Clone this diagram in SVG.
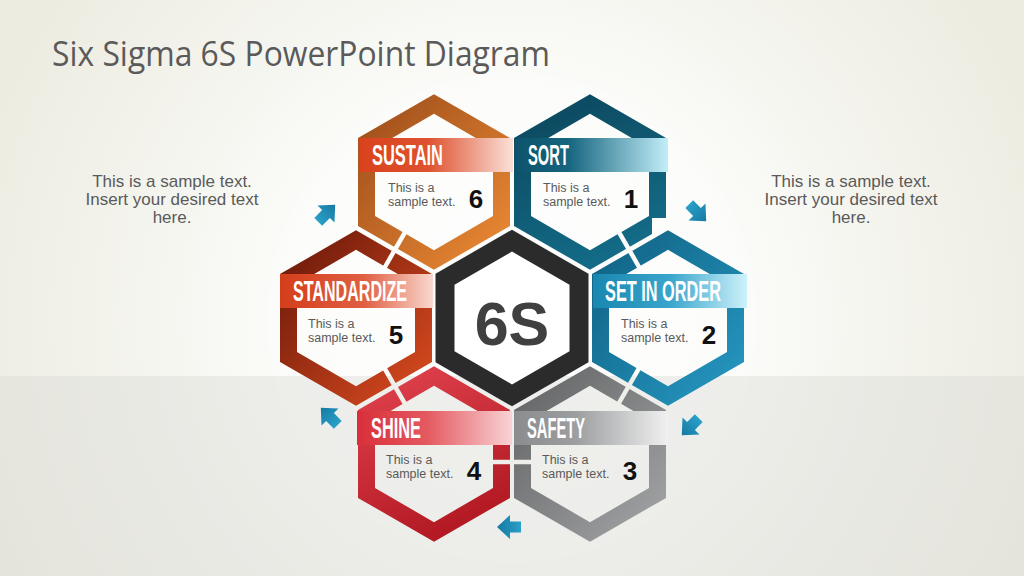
<svg xmlns="http://www.w3.org/2000/svg" width="1024" height="576" viewBox="0 0 1024 576">
<defs>
<style>
.ttl{font-family:"Open Sans","Liberation Sans",sans-serif;font-size:35px;fill:#5a5a5a}
.side{font-family:"Liberation Sans",Arial,sans-serif;font-size:17px;fill:#5a5a5a;text-anchor:middle}
.lbl{font-family:"Liberation Sans",Arial,sans-serif;font-size:29px;font-weight:bold;fill:#ffffff}
.body{font-family:"Liberation Sans",Arial,sans-serif;font-size:12.5px;fill:#5a5a5a}
.num{font-family:"Liberation Sans",Arial,sans-serif;font-size:26px;font-weight:bold;fill:#111111;text-anchor:middle}
.ring{fill-rule:evenodd}
.arrow{fill:url(#gArrow)}
</style>
<radialGradient id="glow" gradientUnits="userSpaceOnUse" cx="512" cy="318" r="560">
<stop offset="0" stop-color="#fff" stop-opacity="1"/>
<stop offset="0.45" stop-color="#fff" stop-opacity="0.75"/>
<stop offset="1" stop-color="#fff" stop-opacity="0"/>
</radialGradient>
<linearGradient id="gArrow" x1="0" y1="0" x2="1" y2="0"><stop offset="0" stop-color="#2aa0c8"/><stop offset="1" stop-color="#1579a3"/></linearGradient>
<linearGradient id="rSustain" x1="0" y1="0" x2="1" y2="1"><stop offset="0" stop-color="#994a1a"/><stop offset="1" stop-color="#ef8d35"/></linearGradient>
<linearGradient id="rSort" x1="0" y1="0" x2="0.4" y2="1"><stop offset="0" stop-color="#0b4459"/><stop offset="1" stop-color="#136b87"/></linearGradient>
<linearGradient id="rSet" x1="0" y1="0" x2="1" y2="1"><stop offset="0" stop-color="#0f5f80"/><stop offset="1" stop-color="#279ac5"/></linearGradient>
<linearGradient id="rSafety" x1="0" y1="0" x2="1" y2="1"><stop offset="0" stop-color="#5e6061"/><stop offset="1" stop-color="#a5a7a8"/></linearGradient>
<linearGradient id="rShine" x1="0" y1="0" x2="0.4" y2="1"><stop offset="0" stop-color="#e34550"/><stop offset="1" stop-color="#b31a23"/></linearGradient>
<linearGradient id="rStand" x1="0" y1="0" x2="1" y2="1"><stop offset="0" stop-color="#651609"/><stop offset="1" stop-color="#de4d20"/></linearGradient>
<linearGradient id="bSustain" x1="0" y1="0" x2="1" y2="0"><stop offset="0" stop-color="#d9421c"/><stop offset="0.45" stop-color="#de5230"/><stop offset="1" stop-color="#fbe0d8"/></linearGradient>
<linearGradient id="bSort" x1="0" y1="0" x2="1" y2="0"><stop offset="0" stop-color="#0d536b"/><stop offset="0.35" stop-color="#16657f"/><stop offset="1" stop-color="#c2eef8"/></linearGradient>
<linearGradient id="bSet" x1="0" y1="0" x2="1" y2="0"><stop offset="0" stop-color="#1987b0"/><stop offset="0.5" stop-color="#3aa5cc"/><stop offset="1" stop-color="#cdf2fb"/></linearGradient>
<linearGradient id="bSafety" x1="0" y1="0" x2="1" y2="0"><stop offset="0" stop-color="#8a8c8d"/><stop offset="0.4" stop-color="#9c9e9f"/><stop offset="1" stop-color="#f0f0f0"/></linearGradient>
<linearGradient id="bShine" x1="0" y1="0" x2="1" y2="0"><stop offset="0" stop-color="#d92f39"/><stop offset="0.45" stop-color="#e45960"/><stop offset="1" stop-color="#f9d3d5"/></linearGradient>
<linearGradient id="bStand" x1="0" y1="0" x2="1" y2="0"><stop offset="0" stop-color="#d43e1b"/><stop offset="0.55" stop-color="#e05f42"/><stop offset="1" stop-color="#f9d8cf"/></linearGradient>
<mask id="cuts" maskUnits="userSpaceOnUse" x="0" y="0" width="1024" height="576">
<rect x="0" y="0" width="1024" height="576" fill="#fff"/>
<g stroke="#000" stroke-width="4.5" fill="none">
<path d="M405.8,230.8 L383.8,269"/>
<path d="M618.2,230.8 L640.2,269"/>
<path d="M639.8,366.8 L617.8,405"/>
<path d="M490,462 L534,462"/>
<path d="M405.8,405.1 L383.8,367"/>
</g>
</mask>
<path id="arr" d="M13,0 L0,-12 L0,-5.5 L-11,-5.5 L-11,5.5 L0,5.5 L0,12 Z"/>
</defs>

<g id="background">
<rect x="0" y="0" width="1024" height="576" fill="#ecece1"/>
<rect x="0" y="0" width="1024" height="576" fill="url(#glow)"/>
<circle cx="512" cy="318" r="245" fill="#fff" opacity="0.3"/>
<rect x="0" y="376" width="1024" height="200" fill="#dcdcd8" opacity="0.45"/>
</g>

<text class="ttl" x="52" y="66" textLength="498" lengthAdjust="spacingAndGlyphs">Six Sigma 6S PowerPoint Diagram</text>

<g id="note-left">
<text class="side" x="172" y="187">This is a sample text.</text>
<text class="side" x="172" y="205">Insert your desired text</text>
<text class="side" x="172" y="223">here.</text>
</g>
<g id="note-right">
<text class="side" x="851" y="187">This is a sample text.</text>
<text class="side" x="851" y="205">Insert your desired text</text>
<text class="side" x="851" y="223">here.</text>
</g>

<g id="center-6s">
<path d="M512,229.67 l76.5,44.17 v88.33 l-76.5,44.17 l-76.5,-44.17 v-88.33 z" fill="#fff"/>
<path class="ring" fill="#2b2b2b" d="M512,229.67 l76.5,44.17 v88.33 l-76.5,44.17 l-76.5,-44.17 v-88.33 z M512,251.6 l57.5,33.2 v66.4 l-57.5,33.2 l-57.5,-33.2 v-66.4 z"/>
<text x="512" y="345" text-anchor="middle" font-family="Liberation Sans, Arial, sans-serif" font-weight="bold" font-size="61" fill="#404040">6S</text>
</g>

<g id="step1-sort">
<path class="ring" fill="url(#rSort)" mask="url(#cuts)" d="M590,94.24 l76,43.88 V218 H652 V233.96 L590,269.76 l-76,-43.88 v-87.76 z M590,113.87 l59,34.07 v68.13 l-59,34.07 l-59,-34.07 v-68.13 z"/>
<rect x="515" y="138" width="153" height="34" fill="url(#bSort)"/>
<text class="lbl" x="528" y="165" textLength="41" lengthAdjust="spacingAndGlyphs">SORT</text>
<text class="body" x="543" y="192">This is a</text>
<text class="body" x="543" y="206">sample text.</text>
<text class="num" x="631" y="208">1</text>
</g>

<g id="step2-set-in-order">
<path class="ring" fill="url(#rSet)" mask="url(#cuts)" d="M668,230.24 l76,43.88 v87.76 l-76,43.88 l-76,-43.88 v-87.76 z M668,249.87 l59,34.07 v68.13 l-59,34.07 l-59,-34.07 v-68.13 z"/>
<rect x="593" y="274" width="154" height="34" fill="url(#bSet)"/>
<text class="lbl" x="605" y="301" textLength="116" lengthAdjust="spacingAndGlyphs">SET IN ORDER</text>
<text class="body" x="621" y="328">This is a</text>
<text class="body" x="621" y="342">sample text.</text>
<text class="num" x="709" y="344">2</text>
</g>

<g id="step3-safety">
<path class="ring" fill="url(#rSafety)" mask="url(#cuts)" d="M590,366.24 l76,43.88 v87.76 l-76,43.88 l-76,-43.88 v-87.76 z M590,385.87 l59,34.07 v68.13 l-59,34.07 l-59,-34.07 v-68.13 z"/>
<rect x="514" y="411" width="154" height="34" fill="url(#bSafety)"/>
<text class="lbl" x="527" y="438" textLength="58" lengthAdjust="spacingAndGlyphs">SAFETY</text>
<text class="body" x="542" y="464">This is a</text>
<text class="body" x="542" y="478">sample text.</text>
<text class="num" x="630" y="480">3</text>
</g>

<g id="step4-shine">
<path class="ring" fill="url(#rShine)" mask="url(#cuts)" d="M434,366.24 l76,43.88 v87.76 l-76,43.88 l-76,-43.88 v-87.76 z M434,385.87 l59,34.07 v68.13 l-59,34.07 l-59,-34.07 v-68.13 z"/>
<rect x="357" y="411" width="155" height="34" fill="url(#bShine)"/>
<text class="lbl" x="371" y="438" textLength="50" lengthAdjust="spacingAndGlyphs">SHINE</text>
<text class="body" x="386" y="464">This is a</text>
<text class="body" x="386" y="478">sample text.</text>
<text class="num" x="474" y="480">4</text>
</g>

<g id="step5-standardize">
<path class="ring" fill="url(#rStand)" mask="url(#cuts)" d="M356,230.24 l76,43.88 v87.76 l-76,43.88 l-76,-43.88 v-87.76 z M356,249.87 l59,34.07 v68.13 l-59,34.07 l-59,-34.07 v-68.13 z"/>
<rect x="280" y="274" width="153" height="34" fill="url(#bStand)"/>
<text class="lbl" x="293" y="301" textLength="114" lengthAdjust="spacingAndGlyphs">STANDARDIZE</text>
<text class="body" x="308" y="328">This is a</text>
<text class="body" x="308" y="342">sample text.</text>
<text class="num" x="396" y="344">5</text>
</g>

<g id="step6-sustain">
<path class="ring" fill="url(#rSustain)" mask="url(#cuts)" d="M434,94.24 l76,43.88 v87.76 l-76,43.88 l-76,-43.88 v-87.76 z M434,113.87 l59,34.07 v68.13 l-59,34.07 l-59,-34.07 v-68.13 z"/>
<rect x="359" y="138" width="154" height="34" fill="url(#bSustain)"/>
<text class="lbl" x="372" y="165" textLength="71" lengthAdjust="spacingAndGlyphs">SUSTAIN</text>
<text class="body" x="388" y="192">This is a</text>
<text class="body" x="388" y="206">sample text.</text>
<text class="num" x="476" y="208">6</text>
</g>

<g id="connectors">
<use href="#arr" class="arrow" transform="translate(697,212) rotate(45)"/>
<use href="#arr" class="arrow" transform="translate(691,426) rotate(135)"/>
<use href="#arr" class="arrow" transform="translate(510,527) rotate(180)"/>
<use href="#arr" class="arrow" transform="translate(330,417) rotate(225)"/>
<use href="#arr" class="arrow" transform="translate(326,214) rotate(-45)"/>
</g>
</svg>
